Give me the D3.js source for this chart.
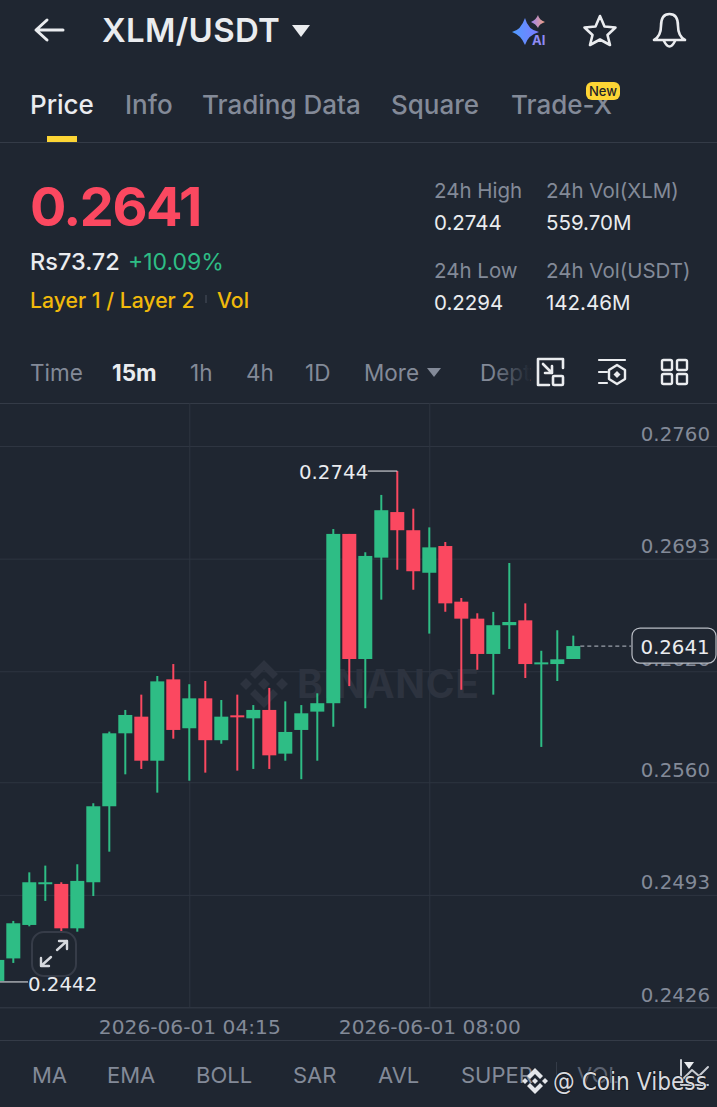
<!DOCTYPE html>
<html>
<head>
<meta charset="utf-8">
<script src="https://cdn.jsdelivr.net/npm/d3@7"></script>
<style>
  html, body { margin: 0; padding: 0; background: #1f2631; }
  svg { display: block; }
  text { font-family: Inter, "Noto Sans", sans-serif; }
  .axis text { font-family: "DejaVu Sans", sans-serif; }
</style>
</head>
<body>
<div id="chart-container"></div>
<script>
const candleTimes = ["01:15","01:30","01:45","02:00","02:15","02:30","02:45","03:00","03:15","03:30","03:45","04:00","04:15","04:30","04:45","05:00","05:15","05:30","05:45","06:00","06:15","06:30","06:45","07:00","07:15","07:30","07:45","08:00","08:15","08:30","08:45","09:00","09:15","09:30","09:45","10:00","10:15"];
const opens  = [0.24418,0.24552,0.24751,0.24995,0.24995,0.24731,0.25005,0.25457,0.25891,0.25990,0.25728,0.26212,0.25921,0.26099,0.25850,0.25998,0.25980,0.26030,0.25770,0.25911,0.26020,0.26070,0.27077,0.26333,0.26936,0.27207,0.27099,0.26846,0.27005,0.26674,0.26573,0.26363,0.26534,0.26563,0.26303,0.26303,0.26333];
const closes = [0.24543,0.24761,0.25005,0.25005,0.24731,0.25013,0.25457,0.25891,0.26000,0.25728,0.26200,0.25911,0.26099,0.25850,0.25990,0.25988,0.26030,0.25760,0.25899,0.26010,0.26070,0.27077,0.26333,0.26946,0.27218,0.27099,0.26855,0.26997,0.26664,0.26573,0.26363,0.26534,0.26553,0.26303,0.26313,0.26331,0.26410];
const highs  = [0.24573,0.24775,0.25064,0.25104,0.25005,0.25112,0.25475,0.25901,0.26030,0.26121,0.26232,0.26303,0.26183,0.26202,0.26089,0.26121,0.26059,0.26161,0.26081,0.26059,0.26129,0.27106,0.27077,0.26968,0.27309,0.27451,0.27227,0.27116,0.27029,0.26696,0.26605,0.26613,0.26904,0.26664,0.26382,0.26504,0.26472];
const lows   = [0.24412,0.24525,0.24743,0.24894,0.24715,0.24711,0.24923,0.25187,0.25647,0.25679,0.25538,0.25859,0.25609,0.25657,0.25829,0.25669,0.25679,0.25679,0.25728,0.25618,0.25728,0.25930,0.26172,0.26040,0.26686,0.26864,0.26745,0.26484,0.26614,0.26150,0.26269,0.26121,0.26393,0.26220,0.25810,0.26202,0.26333];

const priceTicks = [0.2760,0.2693,0.2626,0.2560,0.2493,0.2426];
const timeTicks = ["04:15","08:00"];
const timeDate = "2026-06-01";
const lastPrice = 0.2641;
const highLabel = "0.2744";
const lowLabel = "0.2442";

const tabs = ["Price","Info","Trading Data","Square","Trade-X"];
const intervals = ["Time","15m","1h","4h","1D","More"];
const indicators = ["MA","EMA","BOLL","SAR","AVL","SUPER"];

const w = 717;
const h = 1107;
const bg = "#1f2631";
const green = "#2ebd85";
const red = "#fb4860";
const grey = "#838a98";
const white = "#eaecef";
const gridColor = "#2e3541";

const svg = d3.select("#chart-container")
  .append("svg")
  .attr("width", w)
  .attr("height", h)
  .attr("viewBox", `0 0 ${w} ${h}`);

svg.append("rect").attr("width", w).attr("height", h).attr("fill", bg);

const label = (str, x, y, size, color, weight, anchor) => svg.append("text")
  .attr("x", x).attr("y", y)
  .attr("font-size", size)
  .attr("font-weight", weight || 400)
  .attr("text-anchor", anchor || "start")
  .attr("fill", color)
  .text(str);

const stroke = (d, color, sw) => svg.append("path")
  .attr("d", d)
  .attr("fill", "none")
  .attr("stroke", color || white)
  .attr("stroke-width", sw || 3)
  .attr("stroke-linecap", "round")
  .attr("stroke-linejoin", "round");

// scales
const x = d3.scalePoint().domain(candleTimes).range([-2.7, 573.3]);
const y = d3.scaleLinear().domain([0.2426, 0.2760]).range([1007.5, 446]);

// header
stroke("M37 30H63M47 20L36 30L47 40", white, 3);
label("XLM/USDT", 102, 42, 33, white, 600).attr("letter-spacing", 0.3);
svg.append("path").attr("d", "M292 25H310L301 37Z").attr("fill", white);

// AI icon
const defs = svg.append("defs");
const aiGrad = defs.append("linearGradient").attr("id", "ai").attr("x1", 0).attr("x2", 1);
aiGrad.append("stop").attr("offset", 0).attr("stop-color", "#4f9cff");
aiGrad.append("stop").attr("offset", 1).attr("stop-color", "#7d7bff");
const pinkGrad = defs.append("linearGradient").attr("id", "ai2").attr("x1", 0).attr("x2", 1);
pinkGrad.append("stop").attr("offset", 0).attr("stop-color", "#9d85f0");
pinkGrad.append("stop").attr("offset", 1).attr("stop-color", "#f0a080");
svg.append("path").attr("d", "M525 18Q528 30 539 32Q528 35 525 45Q521 35 512 32Q521 30 525 18Z").attr("fill", "url(#ai)");
svg.append("path").attr("d", "M538 15Q539 20 545 22Q539 24 538 28Q536 24 531 22Q536 20 538 15Z").attr("fill", "url(#ai2)");
label("AI", 532, 45, 13, "#8f8cf5", 700);

// star and bell
stroke("M600 16L604.5 26.5L615.5 27.5L607.5 35L610 45L600 39.5L590 45L592.5 35L584.5 27.5L595.5 26.5Z", white, 2.6);
stroke("M654 40Q661 36 661 26Q661 14 669.500 14Q678 14 678 26Q678 36 685 40Z", white, 2.6);
stroke("M664 41Q669.500 52 675 41", white, 2.6);

// tabs
const tabX = [30, 125, 202, 391, 511];
tabs.forEach((t, i) => label(t, tabX[i], 114, 26, i === 0 ? white : grey, 500));
svg.append("rect").attr("x", 47).attr("y", 136).attr("width", 30).attr("height", 6).attr("fill", "#fcd535");
svg.append("rect").attr("x", 0).attr("y", 142).attr("width", w).attr("height", 1).attr("fill", "#343b47");
svg.append("rect").attr("x", 586).attr("y", 82).attr("width", 34).attr("height", 18).attr("rx", 6).attr("fill", "#fcd535");
label("New", 603, 96, 13, "#1e2329", 500, "middle");

// price block
label("0.2641", 30, 226, 54, red, 700).attr("letter-spacing", -1.5);
label("Rs73.72", 30, 270, 23.5, white, 500);
label("+10.09%", 128, 270, 23, green, 400);
label("Layer 1 / Layer 2", 30, 308, 21.2, "#f0b90b", 500);
svg.append("rect").attr("x", 205).attr("y", 295).attr("width", 2).attr("height", 8).attr("fill", "#343b47");
label("Vol", 217, 308, 21.2, "#f0b90b", 500);

label("24h High", 434, 198, 20.5, grey);
label("0.2744", 434, 230, 20.5, white);
label("24h Vol(XLM)", 546, 198, 20.5, grey);
label("559.70M", 546, 230, 20.5, white);
label("24h Low", 434, 278, 20.5, grey);
label("0.2294", 434, 310, 20.5, white);
label("24h Vol(USDT)", 546, 278, 20.5, grey);
label("142.46M", 546, 310, 20.5, white);

// interval row
const intervalX = [30, 112, 190, 246, 305, 364];
intervals.forEach((t, i) => label(t, intervalX[i], 381, 22.5, i === 1 ? white : grey, i === 1 ? 700 : 400));
svg.append("path").attr("d", "M427 368H441L434 377Z").attr("fill", grey);
label("Dept", 480, 381, 22.5, grey);
const fade = defs.append("linearGradient").attr("id", "fade").attr("x1", 0).attr("x2", 1);
fade.append("stop").attr("offset", 0).attr("stop-color", bg).attr("stop-opacity", 0);
fade.append("stop").attr("offset", 1).attr("stop-color", bg).attr("stop-opacity", 1);
svg.append("rect").attr("x", 490).attr("y", 355).attr("width", 40).attr("height", 40).attr("fill", "url(#fade)");

// row icons
stroke("M538 385V359H563V368M538 385H549", white, 2.6);
stroke("M543 364L552 373M552 366V373H545", white, 2.6);
svg.append("rect").attr("x", 553).attr("y", 376).attr("width", 10).attr("height", 9).attr("rx", 1)
  .attr("fill", "none").attr("stroke", white).attr("stroke-width", 2.6);
stroke("M599 360H625M599 372H607M599 383H607", white, 2.2);
stroke("M617 365L625 370V379L617 384L609 379V370Z", white, 2.4);
svg.append("path").attr("d", "M617 371L620.500 374.500L617 378L613.500 374.500Z").attr("fill", white);
[[662, 360], [677, 360], [662, 374], [677, 374]].forEach(p => {
  svg.append("rect").attr("x", p[0]).attr("y", p[1]).attr("width", 10).attr("height", 10).attr("rx", 1.5)
    .attr("fill", "none").attr("stroke", white).attr("stroke-width", 2.4);
});
svg.append("rect").attr("x", 0).attr("y", 403).attr("width", w).attr("height", 1).attr("fill", "#343b47");

// axes
const yAxis = d3.axisRight(y)
  .tickValues(priceTicks)
  .tickSize(w)
  .tickFormat(d3.format(".4f"));
const yG = svg.append("g").attr("class", "axis").call(yAxis);
yG.select(".domain").remove();
yG.selectAll("line").attr("stroke", gridColor).attr("stroke-width", 1);
yG.selectAll("text")
  .attr("x", 710).attr("dy", -6)
  .attr("text-anchor", "end")
  .attr("font-size", 19.8)
  .attr("fill", grey);

const xAxis = d3.axisBottom(x)
  .tickValues(timeTicks)
  .tickSize(604)
  .tickFormat(d => `${timeDate} ${d}`);
const xG = svg.append("g").attr("class", "axis").attr("transform", "translate(0,403)").call(xAxis);
xG.select(".domain").remove();
xG.selectAll("line").attr("stroke", gridColor).attr("stroke-width", 1);
xG.selectAll("text")
  .attr("y", 631).attr("dy", 0)
  .attr("font-size", 20.2)
  .attr("fill", grey);

svg.append("rect").attr("x", 0).attr("y", 1007).attr("width", w).attr("height", 1).attr("fill", gridColor);
svg.append("rect").attr("x", 0).attr("y", 1040).attr("width", w).attr("height", 1).attr("fill", "#343b47");

// BINANCE watermark
const markColor = "#2d333f";
const mark = svg.append("g").attr("transform", "translate(264,684)").attr("fill", markColor);
mark.append("path").attr("d", "M0 -24L14 -10L9 -5L0 -14L-9 -5L-14 -10Z");
mark.append("path").attr("d", "M0 24L14 10L9 5L0 14L-9 5L-14 10Z");
mark.append("path").attr("d", "M0 -6L6 0L0 6L-6 0Z");
mark.append("path").attr("d", "M-18 -6L-12 0L-18 6L-24 0Z");
mark.append("path").attr("d", "M18 -6L24 0L18 6L12 0Z");
svg.append("text").attr("x", 297).attr("y", 698).attr("font-size", 39).attr("font-weight", 700)
  .attr("textLength", 182).attr("fill", markColor).text("BINANCE");

// candles
const candleData = candleTimes.map((t, i) => ({ t, o: opens[i], c: closes[i], hi: highs[i], lo: lows[i] }));
const colorOf = d => d.c >= d.o ? green : red;

svg.append("g").selectAll("line")
  .data(candleData)
  .join("line")
  .attr("x1", d => x(d.t)).attr("x2", d => x(d.t))
  .attr("y1", d => y(d.hi)).attr("y2", d => y(d.lo))
  .attr("stroke", colorOf)
  .attr("stroke-width", 2);

svg.append("g").selectAll("rect")
  .data(candleData)
  .join("rect")
  .attr("x", d => x(d.t) - 7)
  .attr("width", 14)
  .attr("y", d => y(Math.max(d.o, d.c)))
  .attr("height", d => Math.max(2, Math.abs(y(d.o) - y(d.c))))
  .attr("fill", colorOf);

// high / low markers
const maxCandle = candleData[d3.maxIndex(highs)];
const minCandle = candleData[d3.minIndex(lows)];
svg.append("line").attr("x1", 368).attr("x2", x(maxCandle.t))
  .attr("y1", y(maxCandle.hi)).attr("y2", y(maxCandle.hi))
  .attr("stroke", white).attr("stroke-width", 1);
label(highLabel, 299, y(maxCandle.hi) + 8, 19.8, white).attr("style", "font-family:'DejaVu Sans'");
svg.append("line").attr("x1", 0).attr("x2", 28)
  .attr("y1", y(minCandle.lo)).attr("y2", y(minCandle.lo))
  .attr("stroke", white).attr("stroke-width", 1);

// last price line and tag
svg.append("line").attr("x1", x(candleTimes[candleTimes.length - 1]) + 7).attr("x2", 631)
  .attr("y1", y(lastPrice)).attr("y2", y(lastPrice))
  .attr("stroke", "#9aa0aa").attr("stroke-width", 1.2).attr("stroke-dasharray", "4 3");
svg.append("rect").attr("x", 632).attr("y", y(lastPrice) - 18).attr("width", 84).attr("height", 35).attr("rx", 8)
  .attr("fill", bg).attr("stroke", "#b9bdc5").attr("stroke-width", 1.2);
label(String(lastPrice), 675, y(lastPrice) + 8, 19.8, white, 400, "middle").attr("style", "font-family:'DejaVu Sans'");

// expand button
svg.append("rect").attr("x", 32).attr("y", 932).attr("width", 44).attr("height", 44).attr("rx", 12)
  .attr("fill", bg).attr("fill-opacity", 0.6).attr("stroke", "#363c48").attr("stroke-width", 2);
stroke("M57 950L67 941M59 941H67V949M51 957L41 966M41 958V966H49", "#d5d8dd", 2.4);
label(lowLabel, 28, y(minCandle.lo) + 9, 19.8, white).attr("style", "font-family:'DejaVu Sans'");

// indicator row
const indicatorX = [32, 107, 196, 293, 378, 461];
indicators.forEach((t, i) => label(t, indicatorX[i], 1083, 22, grey));
label("VOL", 577, 1083, 22, "#5b6270");
svg.append("rect").attr("x", 556).attr("y", 1062).attr("width", 1).attr("height", 24).attr("fill", "#343b47");
stroke("M681 1060V1085H708M683 1079L692 1070L699 1076L708 1067", "#c9ccd2", 2);
svg.append("path").attr("d", "M684 1062H694L689 1069Z").attr("fill", "#eaecef");

// corner stamp
const stamp = svg.append("g").attr("transform", "translate(535,1081)").attr("fill", "#e4e6ea");
stamp.append("path").attr("d", "M0 -13L8 -5L5 -2L0 -7L-5 -2L-8 -5Z");
stamp.append("path").attr("d", "M0 13L8 5L5 2L0 7L-5 2L-8 5Z");
stamp.append("path").attr("d", "M0 -3L3 0L0 3L-3 0Z");
stamp.append("path").attr("d", "M-10 -3L-7 0L-10 3L-13 0Z");
stamp.append("path").attr("d", "M10 -3L13 0L10 3L7 0Z");
label("@ Coin Vibess", 553, 1090, 24, "#d8dadf")
  .attr("textLength", 154).attr("lengthAdjust", "spacingAndGlyphs")
  .attr("style", "font-family:'DejaVu Sans';paint-order:stroke;stroke:#14181f;stroke-width:1.5px");
</script>
</body>
</html>
